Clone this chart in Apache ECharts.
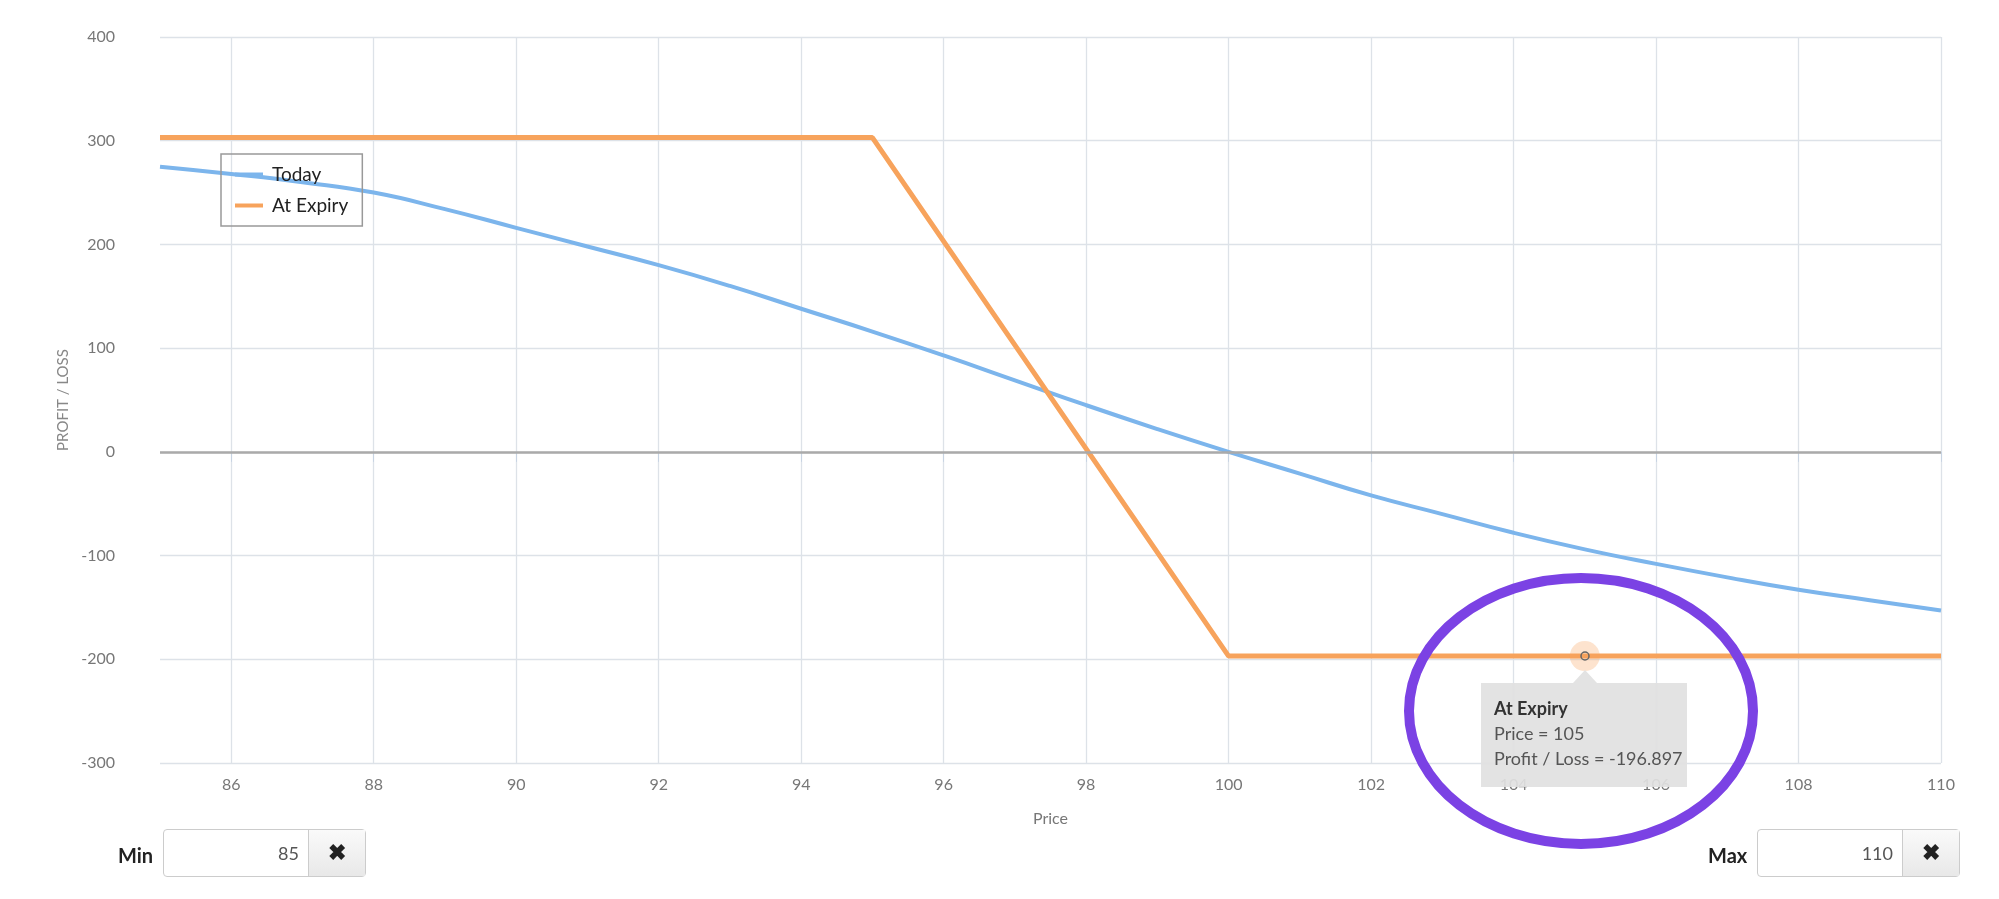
<!DOCTYPE html>
<html><head><meta charset="utf-8">
<script src="https://cdn.jsdelivr.net/npm/echarts@6/dist/echarts.min.js"></script>
<style>
body{margin:0;background:#fff;font-family:Lato,"Open Sans",sans-serif;}
#c{width:1999px;height:899px;position:absolute;left:0;top:0;}
.lab{position:absolute;font-weight:bold;font-size:20px;color:#222;}
.box{position:absolute;height:46px;border:1px solid #ccc;border-radius:4px;background:#fff;}
.val{position:absolute;right:66px;top:12px;font-size:18px;color:#555;}
.btn{position:absolute;right:0;top:0;width:56px;height:46px;border-left:1px solid #ccc;background:linear-gradient(#fafafa,#e8e8e8);text-align:center;line-height:44px;font-size:22px;font-weight:bold;color:#222;}
</style></head><body>
<div id="c"></div>
<div class="lab" style="left:118px;top:843px">Min</div>
<div class="box" style="left:163px;top:829px;width:201px"><span class="val">85</span><div class="btn">✖</div></div>
<div class="lab" style="left:1708px;top:843px">Max</div>
<div class="box" style="left:1757px;top:829px;width:201px"><span class="val">110</span><div class="btn">✖</div></div>
<script>
const prices = [85,86,87,88,89,90,91,92,93,94,95,96,97,98,99,100,101,102,103,104,105,106,107,108,109,110];
const today = [275,268,260,250,234,216,198,180,160,138,116,93,69,45,22,0,-21,-42,-60,-78,-94,-108,-121,-133,-143,-153];
const expiryX = [85,95,100,105,110];
const expiryY = [303,303,-196.897,-196.897,-196.897];
const xTicks = [86,88,90,92,94,96,98,100,102,104,106,108,110];
const chart = echarts.init(document.getElementById('c'));
chart.setOption({
  animation:false,
  textStyle:{fontFamily:'Lato'},
  grid:{left:160,right:58,top:37,bottom:136},
  legend:{left:221,top:154,orient:'vertical',itemWidth:28,itemHeight:4,itemGap:12,padding:[11,14,11,14],
    borderColor:'#999',borderWidth:1.5,borderRadius:0,icon:'rect',
    textStyle:{fontSize:19,color:'#222',padding:[0,0,0,4]},data:['Today','At Expiry']},
  xAxis:{type:'value',min:85,max:110,name:'Price',nameLocation:'middle',nameGap:48,
    nameTextStyle:{color:'#777',fontSize:16},
    axisLine:{show:false},
    axisTick:{show:true,length:10,customValues:xTicks,lineStyle:{color:'#c8d4e3'}},
    axisLabel:{color:'#777',fontSize:16,margin:14,customValues:xTicks},
    splitLine:{show:true,lineStyle:{color:'#dde2e8',width:1.3}}},
  yAxis:{type:'value',min:-300,max:400,interval:100,name:'PROFIT / LOSS',nameLocation:'middle',nameGap:80,
    nameTextStyle:{color:'#888',fontSize:15},
    axisLine:{show:false},axisTick:{show:false},
    axisLabel:{color:'#777',fontSize:16,margin:45},
    splitLine:{lineStyle:{color:'#dde2e8',width:1.3}}},
  series:[
    {name:'Today',type:'line',data:prices.map((p,i)=>[p,today[i]]),smooth:true,showSymbol:false,
      lineStyle:{color:'#7cb5ec',width:4},itemStyle:{color:'#7cb5ec'},
      markLine:{silent:true,symbol:'none',label:{show:false},lineStyle:{color:'#aaa',width:2.5,type:'solid'},data:[{yAxis:0}]}},
    {name:'At Expiry',type:'line',data:expiryX.map((p,i)=>[p,expiryY[i]]),showSymbol:false,
      lineStyle:{color:'#f7a35c',width:5},itemStyle:{color:'#f7a35c'},
      markPoint:{symbol:'circle',symbolSize:30,itemStyle:{color:'rgba(247,163,92,0.3)'},label:{show:false},
        data:[{coord:[105,-196.897]}]}}
  ],
  graphic:[
    {type:'circle',shape:{cx:1585,cy:656,r:4},z:100,style:{fill:'none',stroke:'#666',lineWidth:1.5}},
    {type:'polygon',shape:{points:[[1573,683],[1597,683],[1585,670]]},z:100,style:{fill:'#e3e3e3'}},
    {type:'rect',shape:{x:1481,y:683,width:206,height:104},z:100,style:{fill:'rgba(225,225,225,0.92)'}},
    {type:'text',x:1494,y:700,z:101,style:{text:'At Expiry',font:'bold 18px Lato',fill:'#333'}},
    {type:'text',x:1494,y:725,z:101,style:{text:'Price = 105',font:'18px Lato',fill:'#555'}},
    {type:'text',x:1494,y:750,z:101,style:{text:'Profit / Loss = -196.897',font:'18px Lato',fill:'#555'}},
    {type:'ellipse',shape:{cx:1581,cy:711,rx:172,ry:133},z:102,style:{fill:'none',stroke:'#7b42e4',lineWidth:10}}
  ]
});
</script></body></html>
